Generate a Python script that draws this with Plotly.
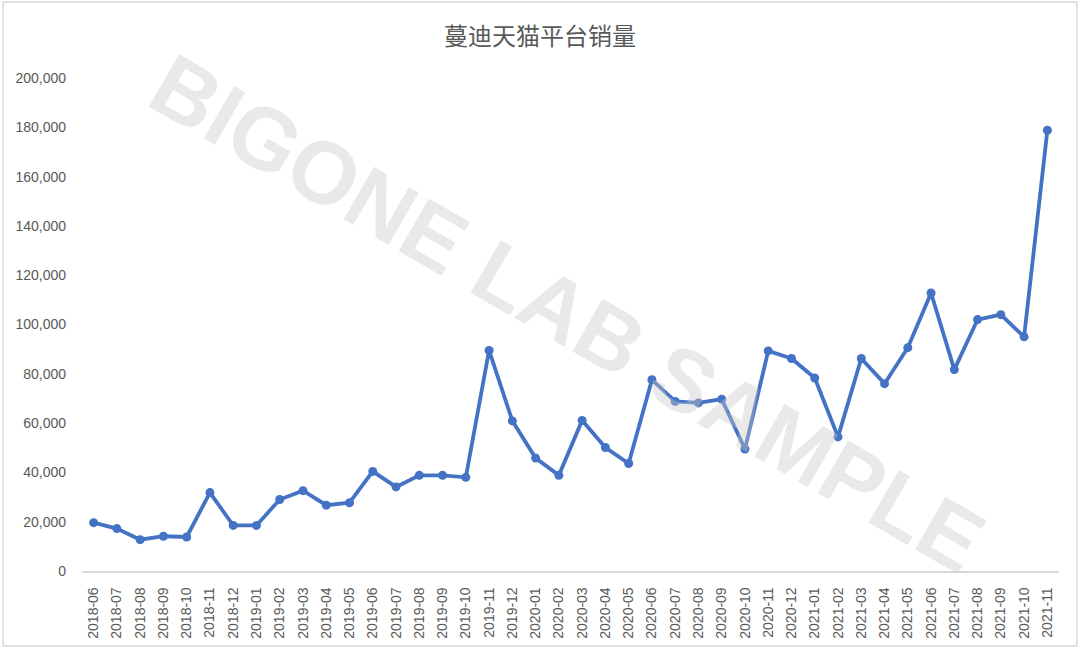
import plotly.graph_objects as go

months = ["2018-06", "2018-07", "2018-08", "2018-09", "2018-10", "2018-11", "2018-12",
          "2019-01", "2019-02", "2019-03", "2019-04", "2019-05", "2019-06", "2019-07",
          "2019-08", "2019-09", "2019-10", "2019-11", "2019-12",
          "2020-01", "2020-02", "2020-03", "2020-04", "2020-05", "2020-06", "2020-07",
          "2020-08", "2020-09", "2020-10", "2020-11", "2020-12",
          "2021-01", "2021-02", "2021-03", "2021-04", "2021-05", "2021-06", "2021-07",
          "2021-08", "2021-09", "2021-10", "2021-11"]
sales = [19600, 17200, 12700, 14100, 13800, 31800, 18500,
         18500, 29000, 32600, 26700, 27700, 40400, 34100,
         38800, 38800, 38000, 89500, 60900,
         45800, 38800, 61100, 50100, 43600, 77600, 68800,
         68200, 69700, 49500, 89300, 86200,
         78300, 54400, 86200, 76000, 90600, 112800, 81700,
         102000, 104000, 95000, 178800]
y_ticks = [0, 20000, 40000, 60000, 80000, 100000, 120000, 140000, 160000, 180000, 200000]
title_text = "蔓迪天猫平台销量"
watermark = "BIGONE LAB SAMPLE"

fig = go.Figure()
fig.add_trace(go.Scatter(
    x=months, y=sales, mode="lines+markers",
    line=dict(color="#4472C4", width=3.8),
    marker=dict(color="#4472C4", size=9),
    showlegend=False, hoverinfo="x+y",
))

fig.update_layout(
    width=1080, height=649,
    margin=dict(l=82, r=21, t=78, b=78, autoexpand=False),
    paper_bgcolor="white", plot_bgcolor="white",
    title=dict(text=title_text, x=0.5, xanchor="center", y=1 - 37 / 649, yanchor="middle",
               font=dict(family="Noto Sans CJK SC", size=24, color="#595959")),
    font=dict(family="Liberation Sans, Arial, sans-serif", color="#595959", size=14),
    xaxis=dict(type="category", range=[-0.5, len(months) - 0.5], automargin=False,
               tickangle=-90, showgrid=False, zeroline=False,
               showline=True, linecolor="#d9d9d9", linewidth=1.5,
               ticks="", ticklabelstandoff=9,
               tickfont=dict(size=14, color="#595959")),
    yaxis=dict(range=[0, 200000], tickvals=y_ticks, tickformat=",", automargin=False,
               showgrid=False, zeroline=False, showline=False, ticks="",
               ticklabelstandoff=15,
               tickfont=dict(size=14, color="#595959")),
    annotations=[dict(
        text="<b>" + watermark + "</b>", xref="paper", yref="paper",
        x=(568 - 82) / 977, y=(571 - 313) / 493, xanchor="center", yanchor="middle",
        showarrow=False, textangle=30,
        font=dict(family="Liberation Sans, Arial, sans-serif", size=88,
                  color="rgba(200,200,200,0.40)"),
    )],
    shapes=[dict(type="rect", xref="paper", yref="paper",
                 x0=(3 - 82) / 977, x1=(1077 - 82) / 977,
                 y0=(571 - 646) / 493, y1=(571 - 2) / 493,
                 line=dict(color="#d9d9d9", width=1.5), fillcolor="rgba(0,0,0,0)",
                 layer="below")],
)

fig.write_html("out.html", config={"displayModeBar": False},
               post_script="document.body.style.margin='0';")
